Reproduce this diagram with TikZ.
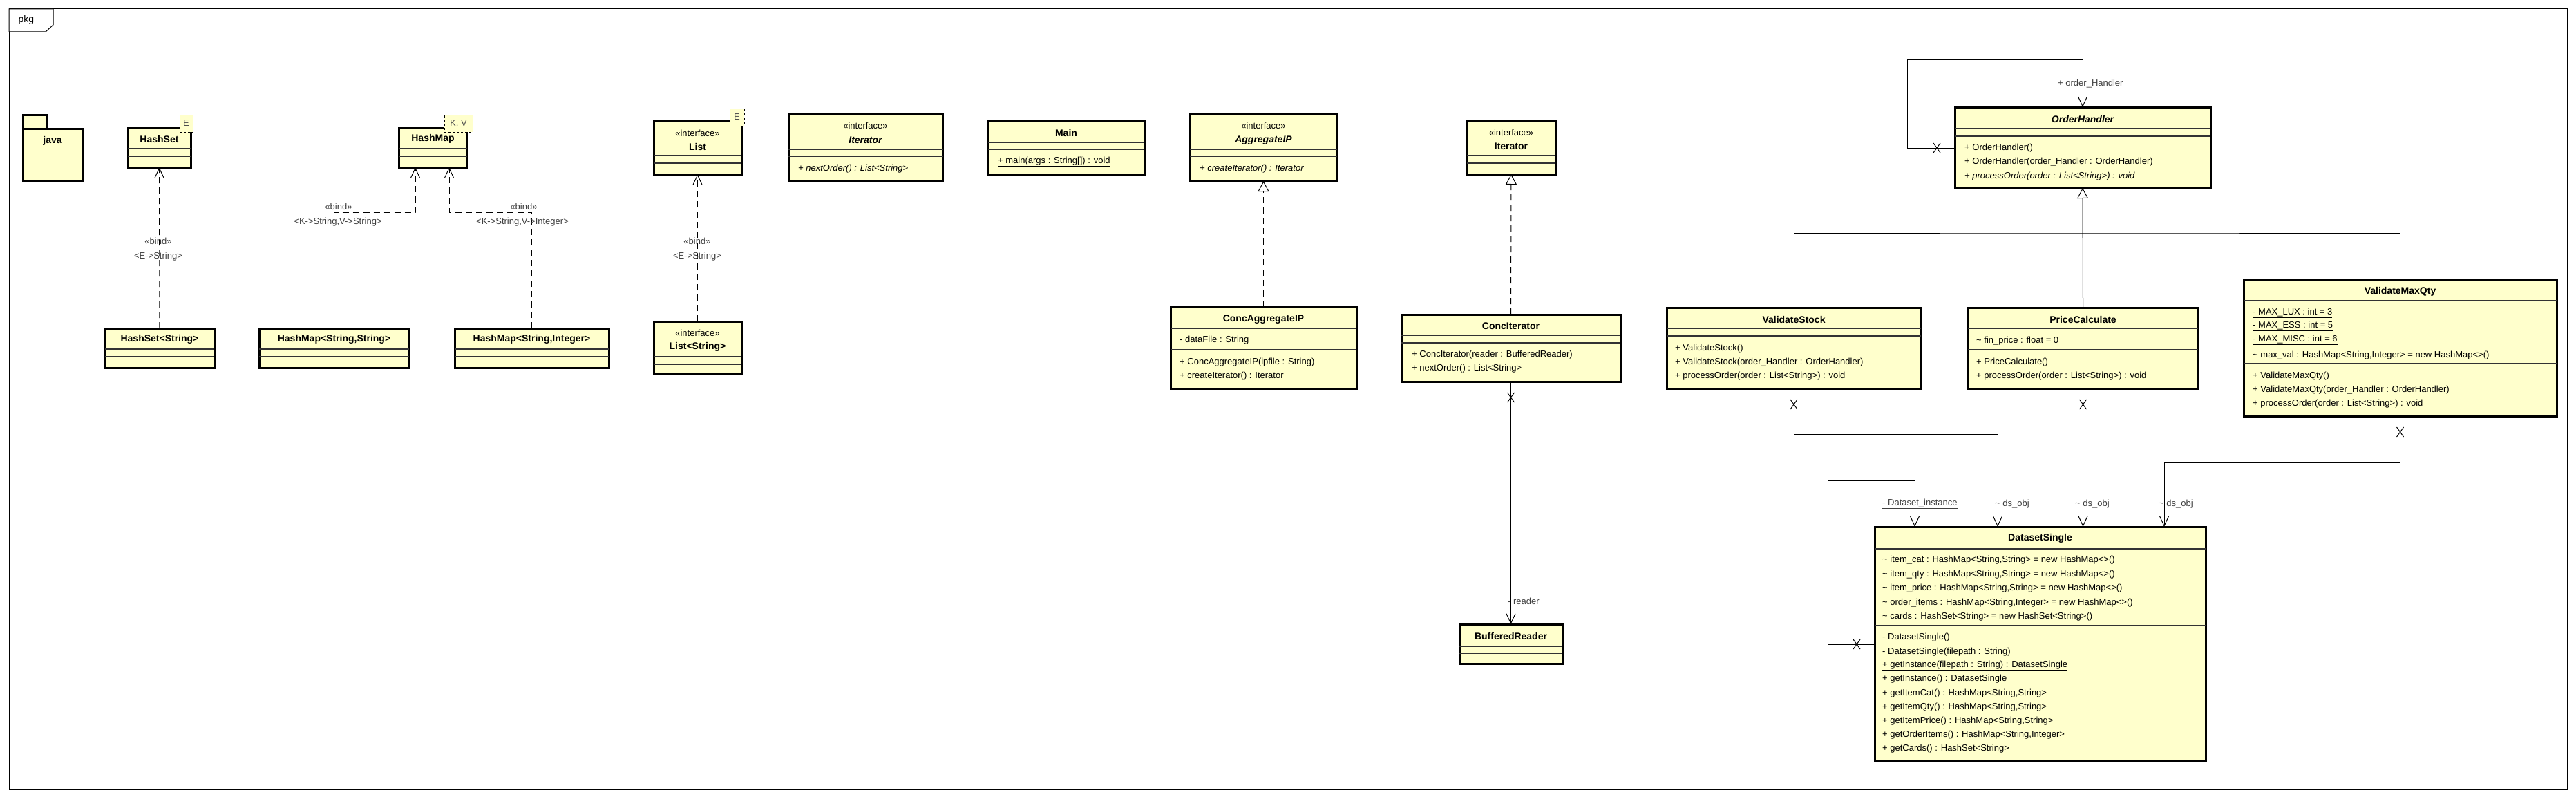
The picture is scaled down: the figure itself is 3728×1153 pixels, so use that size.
\documentclass[tikz,border=0pt]{standalone}
\usepackage{fontspec}
\setmainfont{Liberation Sans}
\usetikzlibrary{arrows.meta,calc}
\definecolor{uy}{HTML}{FFFFCC}
\tikzset{
 ubox/.style={draw,line width=3pt,fill=uy,inner sep=0pt,outer sep=0pt},
 tmpl/.style={draw,dashed,line width=1pt,fill=uy,inner sep=0pt,outer sep=0pt},
 cline/.style={line width=1.3pt,draw=black!80},
 txt/.style={inner sep=0pt,font=\fontsize{13}{15}\selectfont},
 nm/.style={inner sep=0pt,font=\fontsize{14}{16}\selectfont\bfseries},
 lbl/.style={inner sep=0pt,font=\fontsize{13}{15}\selectfont,text=black!75},
 dep/.style={line width=1pt,dash pattern=on 9pt off 6pt,-{Straight Barb[length=14pt,width=13pt,line width=1pt]}},
 real/.style={line width=1pt,dash pattern=on 9pt off 6pt,-{Triangle[open,length=15pt,width=16pt,fill=white,line width=1pt]}},
 gen/.style={line width=1pt,-{Triangle[open,length=15pt,width=16pt,fill=white,line width=1pt]}},
 assoc/.style={line width=1pt,-{Straight Barb[length=14pt,width=13pt,line width=1pt]}},
 plain/.style={line width=1pt}
}
\newcommand\ubx[5]{\node[ubox,anchor=north west,minimum width={#4pt-#2pt},minimum height={#5pt-#3pt}] (#1) at (#2,#3) {};}
\newcommand\tmb[6]{\node[tmpl,anchor=north west,minimum width={#4pt-#2pt},minimum height={#5pt-#3pt},font=\fontsize{13}{15}\selectfont,text=black!70] (#1) at (#2,#3) {#6};}
\newcommand\hl[3]{\draw[cline] (#1,#3) -- (#2,#3);}
\newcommand\xm[2]{\draw[plain] ($(#1,#2)+(-5,-7)$) -- ($(#1,#2)+(5,7)$) ($(#1,#2)+(-5,7)$) -- ($(#1,#2)+(5,-7)$);}
\begin{document}
\begin{tikzpicture}[x=1pt,y=-1pt]
\path[use as bounding box,fill=white] (0,0) rectangle (3728,1153);
% frame
\draw[line width=1pt] (13,13) rectangle (3715,1142);
\draw[line width=1pt,fill=white] (13,13) -- (77,13) -- (77,36) -- (66,46) -- (13,46) -- cycle;
\node[txt,font=\fontsize{14}{16}\selectfont] (pkg) at (38,29) {pkg};
% java package
\node[ubox,anchor=north west,minimum width=35pt,minimum height=20pt] (javatab) at (33,166) {};
\node[ubox,anchor=north west,minimum width=86pt,minimum height=75pt] (java) at (33,186) {};
\node[nm] (javat) at (76,204) {java};
% HashSet
\ubx{hs}{185}{185}{276}{242}\hl{185}{276}{215}\hl{185}{276}{226}
\node[nm] (hsn) at (230.5,201) {HashSet};
\tmb{hse}{260}{166}{279}{191}{E}
% HashMap
\ubx{hm}{577}{185}{676}{242}\hl{577}{676}{215}\hl{577}{676}{226}
\node[nm] (hmn) at (626.5,201) {HashMap};
\tmb{hmkv}{643}{166}{684}{191}{K, V}
% bound
\ubx{hss}{152}{475}{310}{532}\hl{152}{310}{505}\hl{152}{310}{516}
\node[nm] (hssn) at (231,491) {HashSet<String>};
\ubx{hmss}{375}{475}{592}{532}\hl{375}{592}{505}\hl{375}{592}{516}
\node[nm] (hmssn) at (483.5,491) {HashMap<String,String>};
\ubx{hmsi}{658}{475}{881}{532}\hl{658}{881}{505}\hl{658}{881}{516}
\node[nm] (hmsin) at (769.5,491) {HashMap<String,Integer>};
% List
\ubx{lst}{946}{175}{1073}{252}\hl{946}{1073}{225}\hl{946}{1073}{236}
\node[txt] (lsts1) at (1009.5,193) {<<interface>>};
\node[nm] (lstn) at (1009.5,212) {List};
\tmb{lste}{1056}{157}{1077}{182}{E}
\ubx{lsts}{946}{465}{1073}{541}\hl{946}{1073}{516}\hl{946}{1073}{527}
\node[txt] (lsts2) at (1009.5,482) {<<interface>>};
\node[nm] (lstsn) at (1009.5,502) {List<String>};
% Iterator left
\ubx{ita}{1141}{164}{1364}{262}\hl{1141}{1364}{216}\hl{1141}{1364}{226}
\node[txt] (itas) at (1252.5,182) {<<interface>>};
\node[nm,font=\fontsize{14}{16}\selectfont\bfseries\itshape] (itan) at (1252.5,203) {Iterator};
\node[txt,anchor=west,font=\fontsize{13}{15}\selectfont\itshape] (itam) at (1155,244) {+ nextOrder() : List<String>};
% Main
\ubx{mn}{1430}{175}{1656}{252}\hl{1430}{1656}{206}\hl{1430}{1656}{216}
\node[nm] (mnn) at (1543,192) {Main};
\node[txt,anchor=west] (mnm) at (1444,234) {\underline{+ main(args : String[]) : void}};
% AggregateIP
\ubx{ag}{1722}{164}{1935}{262}\hl{1722}{1935}{216}\hl{1722}{1935}{226}
\node[txt] (ags) at (1828.5,182) {<<interface>>};
\node[nm,font=\fontsize{14}{16}\selectfont\bfseries\itshape] (agn) at (1828.5,203) {AggregateIP};
\node[txt,anchor=west,font=\fontsize{13}{15}\selectfont\itshape] (agm) at (1736,244) {+ createIterator() : Iterator};
% ConcAggregateIP
\ubx{cag}{1694}{444}{1963}{562}\hl{1694}{1963}{475}\hl{1694}{1963}{506}
\node[nm] (cagn) at (1828.5,462) {ConcAggregateIP};
\node[txt,anchor=west] (caga) at (1707,492) {- dataFile : String};
\node[txt,anchor=west] (cagm1) at (1707,524) {+ ConcAggregateIP(ipfile : String)};
\node[txt,anchor=west] (cagm2) at (1707,544) {+ createIterator() : Iterator};
% Iterator right
\ubx{itb}{2123}{175}{2251}{252}\hl{2123}{2251}{225}\hl{2123}{2251}{236}
\node[txt] (itbs) at (2187,192) {<<interface>>};
\node[nm] (itbn) at (2187,212) {Iterator};
% ConcIterator
\ubx{ci}{2028}{455}{2345}{552}\hl{2028}{2345}{485}\hl{2028}{2345}{496}
\node[nm] (cin) at (2186.5,472) {ConcIterator};
\node[txt,anchor=west] (cim1) at (2043,513) {+ ConcIterator(reader : BufferedReader)};
\node[txt,anchor=west] (cim2) at (2043,533) {+ nextOrder() : List<String>};
% BufferedReader
\ubx{br}{2112}{903}{2261}{960}\hl{2112}{2261}{935}\hl{2112}{2261}{945}
\node[nm] (brn) at (2186.5,920) {BufferedReader};
% OrderHandler
\ubx{oh}{2829}{155}{3199}{272}\hl{2829}{3199}{186}\hl{2829}{3199}{197}
\node[nm,font=\fontsize{14}{16}\selectfont\bfseries\itshape] (ohn) at (3014,172) {OrderHandler};
\node[txt,anchor=west] (ohm1) at (2843,214) {+ OrderHandler()};
\node[txt,anchor=west] (ohm2) at (2843,234) {+ OrderHandler(order\_Handler : OrderHandler)};
\node[txt,anchor=west,font=\fontsize{13}{15}\selectfont\itshape] (ohm3) at (2843,255) {+ processOrder(order : List<String>) : void};
% ValidateStock
\ubx{vs}{2412}{445}{2780}{562}\hl{2412}{2780}{475}\hl{2412}{2780}{486}
\node[nm] (vsn) at (2596,462) {ValidateStock};
\node[txt,anchor=west] (vsm1) at (2424,504) {+ ValidateStock()};
\node[txt,anchor=west] (vsm2) at (2424,524) {+ ValidateStock(order\_Handler : OrderHandler)};
\node[txt,anchor=west] (vsm3) at (2424,544) {+ processOrder(order : List<String>) : void};
% PriceCalculate
\ubx{pc}{2848}{445}{3181}{562}\hl{2848}{3181}{475}\hl{2848}{3181}{506}
\node[nm] (pcn) at (3014.5,462) {PriceCalculate};
\node[txt,anchor=west] (pca) at (2860,493) {\textasciitilde{} fin\_price : float = 0};
\node[txt,anchor=west] (pcm1) at (2860,524) {+ PriceCalculate()};
\node[txt,anchor=west] (pcm2) at (2860,544) {+ processOrder(order : List<String>) : void};
% ValidateMaxQty
\ubx{vm}{3247}{404}{3700}{602}\hl{3247}{3700}{435}\hl{3247}{3700}{526}
\node[nm] (vmn) at (3473.5,422) {ValidateMaxQty};
\node[txt,anchor=west] (vma1) at (3260,453) {\underline{- MAX\_LUX : int = 3}};
\node[txt,anchor=west] (vma2) at (3260,472) {\underline{- MAX\_ESS : int = 5}};
\node[txt,anchor=west] (vma3) at (3260,492) {\underline{- MAX\_MISC : int = 6}};
\node[txt,anchor=west] (vma4) at (3260,514) {\textasciitilde{} max\_val : HashMap<String,Integer> = new HashMap<>()};
\node[txt,anchor=west] (vmm1) at (3260,544) {+ ValidateMaxQty()};
\node[txt,anchor=west] (vmm2) at (3260,564) {+ ValidateMaxQty(order\_Handler : OrderHandler)};
\node[txt,anchor=west] (vmm3) at (3260,584) {+ processOrder(order : List<String>) : void};
% DatasetSingle
\ubx{ds}{2713}{762}{3192}{1101}\hl{2713}{3192}{794}\hl{2713}{3192}{905}
\node[nm] (dsn) at (2952.5,779) {DatasetSingle};
\node[txt,anchor=west] (dsa1) at (2724,810) {\textasciitilde{} item\_cat : HashMap<String,String> = new HashMap<>()};
\node[txt,anchor=west] (dsa2) at (2724,831) {\textasciitilde{} item\_qty : HashMap<String,String> = new HashMap<>()};
\node[txt,anchor=west] (dsa3) at (2724,851) {\textasciitilde{} item\_price : HashMap<String,String> = new HashMap<>()};
\node[txt,anchor=west] (dsa4) at (2724,872) {\textasciitilde{} order\_items : HashMap<String,Integer> = new HashMap<>()};
\node[txt,anchor=west] (dsa5) at (2724,892) {\textasciitilde{} cards : HashSet<String> = new HashSet<String>()};
\node[txt,anchor=west] (dsm1) at (2724,922) {- DatasetSingle()};
\node[txt,anchor=west] (dsm2) at (2724,943) {- DatasetSingle(filepath : String)};
\node[txt,anchor=west] (dsm3) at (2724,963) {\underline{+ getInstance(filepath : String) : DatasetSingle}};
\node[txt,anchor=west] (dsm4) at (2724,983) {\underline{+ getInstance() : DatasetSingle}};
\node[txt,anchor=west] (dsm5) at (2724,1003) {+ getItemCat() : HashMap<String,String>};
\node[txt,anchor=west] (dsm6) at (2724,1023) {+ getItemQty() : HashMap<String,String>};
\node[txt,anchor=west] (dsm7) at (2724,1043) {+ getItemPrice() : HashMap<String,String>};
\node[txt,anchor=west] (dsm8) at (2724,1063) {+ getOrderItems() : HashMap<String,Integer>};
\node[txt,anchor=west] (dsm9) at (2724,1083) {+ getCards() : HashSet<String>};
% bind dependencies
\draw[dep] (hss.north) -- (hs.south);
\draw[dep] (hmss.north) |- ($(hm.south)+(-25.5,65)$) -- ($(hm.south)+(-25.5,0)$);
\draw[dep] (hmsi.north) |- ($(hm.south)+(23.5,65)$) -- ($(hm.south)+(23.5,0)$);
\draw[dep] (lsts.north) -- (lst.south);
\node[lbl] (b1) at (229,349) {<<bind>>};
\node[lbl] (b1b) at (229,371) {<E->String>};
\node[lbl] (b2) at (490,299) {<<bind>>};
\node[lbl] (b2b) at (489,321) {<K->String,V->String>};
\node[lbl] (b3) at (758,299) {<<bind>>};
\node[lbl] (b3b) at (756,321) {<K->String,V->Integer>};
\node[lbl] (b4) at (1009,349) {<<bind>>};
\node[lbl] (b4b) at (1009,371) {<E->String>};
% realizations
\draw[real] (cag.north) -- (ag.south);
\draw[real] (ci.north) -- (itb.south);
% ConcIterator -> BufferedReader
\draw[assoc] (ci.south) -- (br.north);
\xm{2186.5}{575}
\node[lbl,anchor=west] (rd) at (2182,870) {- reader};
% OrderHandler self association
\draw[assoc] (oh.west |- ohm1) -- ++(-69,0) |- ($(oh.north)+(0,-68)$) -- (oh.north);
\xm{2803}{214}
\node[lbl,anchor=west] (ohl) at (2978,121) {+ order\_Handler};
% generalizations
\draw[plain] (vs.north) |- ($(oh.south)+(0,65)$) -| (vm.north);
\draw[gen] (pc.north) -- (oh.south);
% associations to DatasetSingle
\draw[assoc] (vs.south) |- ($(ds.north west)+(178,-134)$) -- ($(ds.north west)+(178,0)$);
\xm{2596}{585}
\draw[assoc] (pc.south) -- (pc.south |- ds.north);
\xm{3014.5}{585}
\draw[assoc] (vm.south) |- ($(ds.north west)+(419,-93)$) -- ($(ds.north west)+(419,0)$);
\xm{3473.5}{625}
\draw[assoc] (ds.west |- dsm1) ++(0,10) -- ++(-68,0) |- ($(ds.north west)+(58,-67)$) -- ($(ds.north west)+(58,0)$);
\xm{2687}{932}
\node[lbl,anchor=west] (dsi) at (2724,729) {\underline{- Dataset\_instance}};
\node[lbl,anchor=west] (do1) at (2887,729) {\textasciitilde{} ds\_obj};
\node[lbl,anchor=west] (do2) at (3003,729) {\textasciitilde{} ds\_obj};
\node[lbl,anchor=west] (do3) at (3124,729) {\textasciitilde{} ds\_obj};
\end{tikzpicture}
\end{document}
